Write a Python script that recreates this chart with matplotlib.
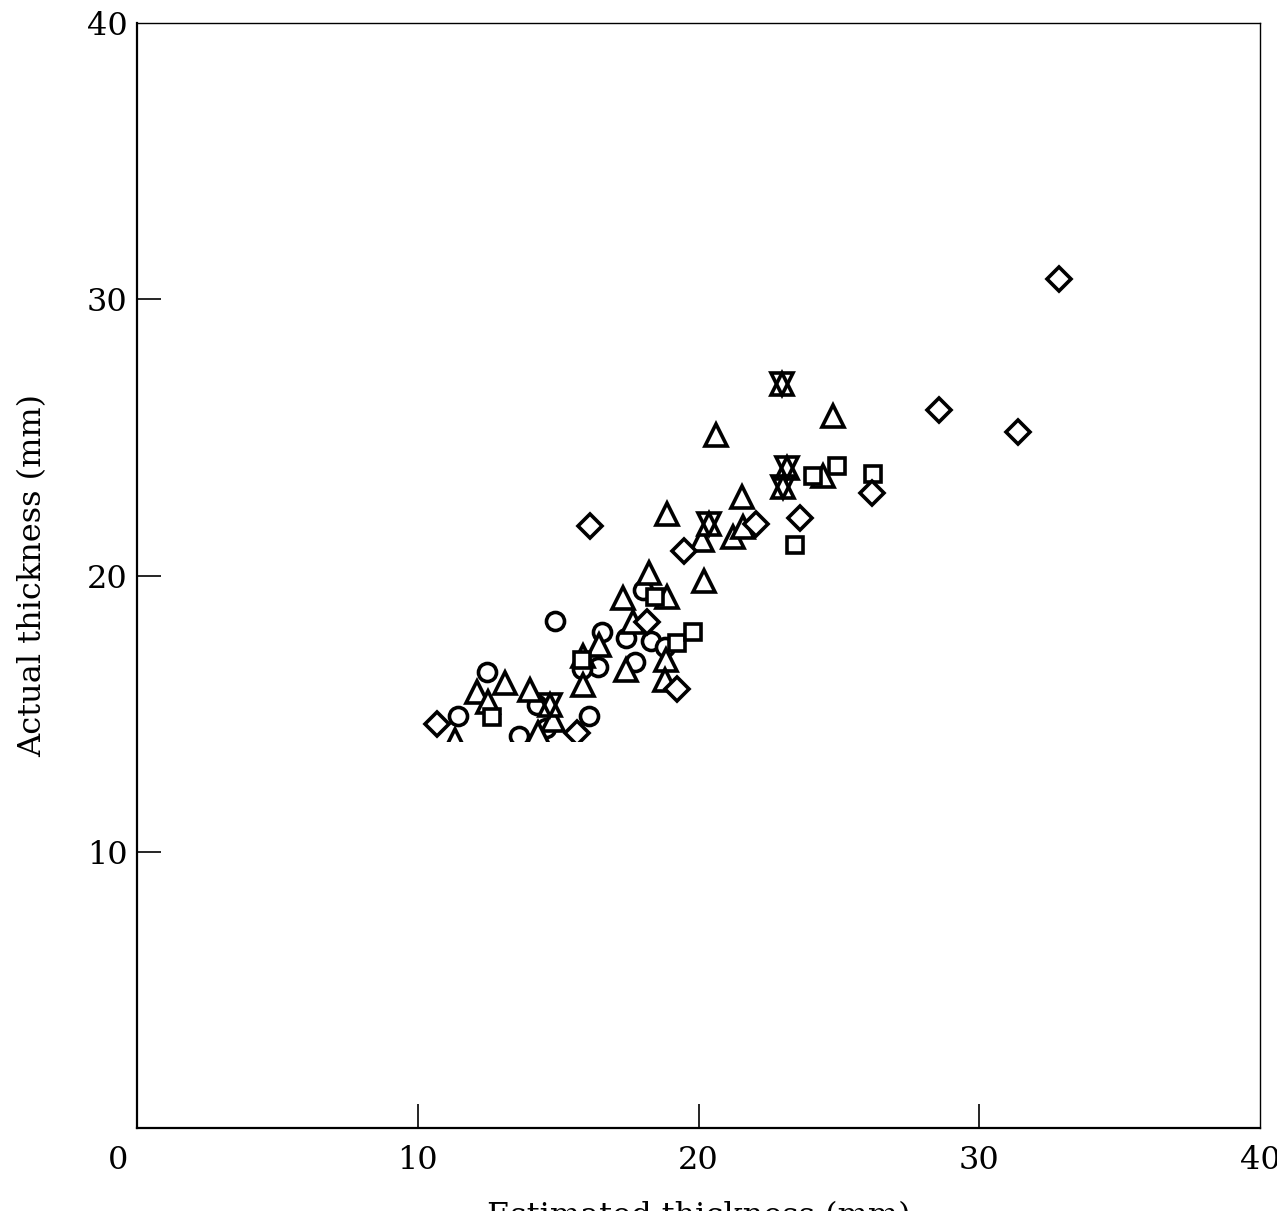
# Scatter of actual vs estimated thickness, five marker groups
import matplotlib
matplotlib.use("Agg")
import matplotlib.pyplot as plt
from matplotlib.patches import Rectangle

plt.rcParams['font.family'] = ['DejaVu Serif']

# Data
circle_x = [11.43, 12.46, 13.60, 14.89, 14.25, 14.55, 16.10, 16.56, 16.42, 15.85, 17.41, 17.73, 18.02, 18.30, 18.80]
circle_y = [14.93, 16.49, 14.20, 18.37, 15.33, 14.49, 14.93, 17.97, 16.70, 16.60, 17.75, 16.88, 19.49, 17.64, 17.43]

triangle_x = [11.32, 12.10, 13.10, 12.50, 14.00, 14.80, 14.28, 15.90, 15.88, 16.45, 17.31, 17.66, 17.41,
              18.23, 18.87, 18.84, 18.80, 20.19, 18.87, 20.12, 21.22, 21.58, 21.55, 20.62, 24.79, 24.43]
triangle_y = [14.06, 15.80, 16.10, 15.43, 15.87, 14.78, 14.31, 16.05, 17.07, 17.50, 19.20, 18.33, 16.59,
              20.10, 19.24, 16.96, 16.23, 19.82, 22.21, 21.30, 21.38, 21.74, 22.86, 25.07, 25.76, 23.59]

square_x = [12.64, 15.85, 18.45, 19.23, 19.80, 23.43, 24.07, 24.93, 26.21]
square_y = [14.89, 16.96, 19.24, 17.57, 17.97, 21.12, 23.59, 23.95, 23.66]

diamond_x = [10.68, 15.67, 16.13, 18.16, 19.23, 19.48, 22.04, 23.61, 26.18, 28.56, 31.37, 32.83]
diamond_y = [14.64, 14.31, 21.81, 18.33, 15.91, 20.87, 21.88, 22.07, 23.00, 25.98, 25.18, 30.72]

star_x = [14.70, 20.37, 22.97, 23.15, 23.00]
star_y = [15.30, 21.85, 26.92, 23.91, 23.19]

fig = plt.figure(figsize=(12.77, 12.11), dpi=100)
ax = fig.add_axes([0.1073, 0.0685, 0.8794, 0.9125])

# the scanned figure is cut just below 14 mm
clip = Rectangle((0, 14.0), 40, 26, transform=ax.transData, facecolor='none', edgecolor='none')
ax.add_patch(clip)

style = dict(linestyle='none', markerfacecolor='white', markeredgecolor='black', markeredgewidth=2.6)
lines = []
lines += ax.plot(circle_x, circle_y, marker='o', markersize=13, **style)
lines += ax.plot(triangle_x, triangle_y, marker='^', markersize=15.5, **style)
lines += ax.plot(square_x, square_y, marker='s', markersize=12, **style)
lines += ax.plot(diamond_x, diamond_y, marker='D', markersize=12, **style)
lines += ax.plot(star_x, star_y, marker='^', markersize=15.5, **style)
star_style = dict(style, markerfacecolor='none')
lines += ax.plot(star_x, star_y, marker='v', markersize=15.5, **star_style)
for ln in lines:
    ln.set_clip_path(clip)

ax.set_xlim(0, 40)
ax.set_ylim(0, 40)
ax.set_xticks([10, 20, 30, 40])
ax.set_yticks([10, 20, 30, 40])
ax.tick_params(direction='in', length=17, width=1.2, labelsize=23)
ax.tick_params(axis='x', pad=12)
ax.tick_params(axis='y', pad=7)
# no tick marks at 40, only the labels
ax.xaxis.get_major_ticks()[-1].tick1line.set_visible(False)
ax.yaxis.get_major_ticks()[-1].tick1line.set_visible(False)
ax.annotate('0', xy=(0, 0), xytext=(-14, -12), textcoords='offset points',
            ha='center', va='top', fontsize=23)

for side in ['top', 'right']:
    ax.spines[side].set_linewidth(1.0)
for side in ['left', 'bottom']:
    ax.spines[side].set_linewidth(1.6)

ax.set_xlabel("Estimated thickness (mm)", fontsize=23, labelpad=18)
ax.set_ylabel("Actual thickness (mm)", fontsize=23, labelpad=28)

plt.savefig("out.png", dpi=100)
